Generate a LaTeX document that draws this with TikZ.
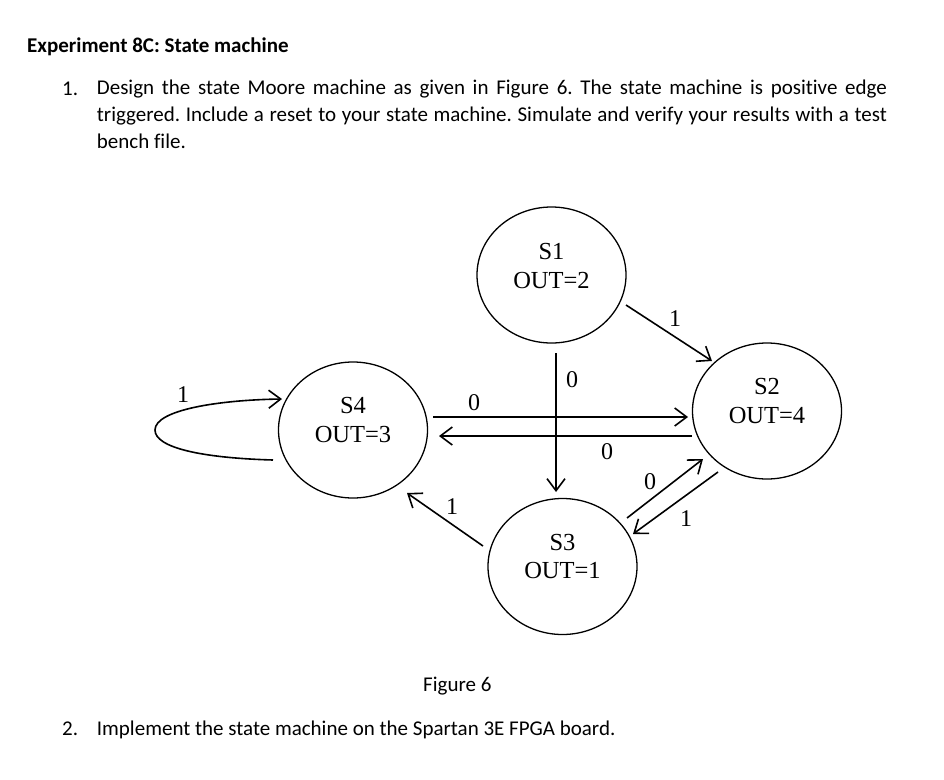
\documentclass[tikz,border=0pt]{standalone}
\usepackage{fontspec}
\setmainfont{Carlito}[Ligatures={NoCommon}]
\newfontfamily\tnr{Liberation Serif}
\usetikzlibrary{shapes.geometric,arrows.meta,calc}
\frenchspacing
\begin{document}
\begin{tikzpicture}[x=1pt,y=-1pt,
  statenode/.style={ellipse, draw, line width=1.3pt, minimum width=149pt, minimum height=136pt, inner sep=0pt},
  statetext/.style={font=\tnr\fontsize{24.5}{28.5}\selectfont, align=center, inner sep=0pt},
  edgelbl/.style={font=\tnr\fontsize{24}{29}\selectfont, inner sep=0pt},
  conn/.style={line width=1.6pt, -{Straight Barb[length=12pt,width=18pt,line width=1.6pt]}},
  bodytext/.style={font=\fontsize{21}{27}\selectfont, inner sep=0pt, anchor=base west}]
\useasboundingbox[fill=white] (0,0) rectangle (944,779);

% header and text
\node[bodytext, font=\bfseries\fontsize{21}{27}\selectfont] (hdr) at (27,52.7) {Experiment 8C: State machine};
\node[bodytext] (n1) at (62,95) {1.};
\node[bodytext, anchor=north west] (p1) at (96.7,80) {\parbox[t]{790pt}{\fontsize{21}{26.7}\selectfont\hyphenpenalty=10000\frenchspacing
Design the state Moore machine as given in Figure 6. The state machine is positive edge\linebreak
triggered. Include a reset to your state machine. Simulate and verify your results with a test\linebreak
bench file.}};
\node[bodytext] (fig) at (423,691.7) {Figure 6};
\node[bodytext] (n2) at (62,735) {2.};
\node[bodytext] (p2) at (96.7,735) {Implement the state machine on the Spartan 3E FPGA board.};

% states
\node[statenode] (S1) at (551.5,275) {};
\node[statenode] (S2) at (767,411) {};
\node[statenode] (S4) at (353,430) {};
\node[statenode] (S3) at (562.5,566.5) {};
\node[statetext] (S1t) at ([yshift=9pt]S1.center) {S1\\OUT=2};
\node[statetext] (S2t) at ([yshift=10pt]S2.center) {S2\\OUT=4};
\node[statetext] (S4t) at ([yshift=10pt]S4.center) {S4\\OUT=3};
\node[statetext] (S3t) at ([yshift=10pt]S3.center) {S3\\OUT=1};

% connectors
\draw[conn] ([shift={(74.5,30)}]S1.center) -- ([shift={(-55,-50)}]S2.center);
\draw[conn] ([shift={(4.5,78)}]S1.center) -- ([shift={(-6.5,-74.5)}]S3.center);
\draw[conn] ([shift={(80,-13)}]S4.center) -- ([shift={(-79,6)}]S2.center);
\draw[conn] ([shift={(-75,25)}]S2.center) -- ([shift={(86,6)}]S4.center);
\draw[conn] ([shift={(64.5,-48.5)}]S3.center) -- ([shift={(-64,48)}]S2.center);
\draw[conn] ([shift={(-49,61)}]S2.center) -- ([shift={(70.5,-32.5)}]S3.center);
\draw[conn] ([shift={(-79.5,-20.5)}]S3.center) -- ([shift={(54,63)}]S4.center);
\coordinate (L0) at ([shift={(-80,30)}]S4.center);
\coordinate (L1) at ([shift={(-198,0)}]S4.center);
\draw[conn] (L0) .. controls ([shift={(-150,28)}]S4.center) and ([shift={(-198,18)}]S4.center) .. (L1)
  .. controls ([shift={(-198,-20)}]S4.center) and ([shift={(-135,-30)}]S4.center) .. ([shift={(-71,-31)}]S4.center);

% edge labels
\node[edgelbl] (e1) at (675,319) {1};
\node[edgelbl] (e2) at (572,380) {0};
\node[edgelbl] (e3) at (474,403) {0};
\node[edgelbl] (e4) at (607,452) {0};
\node[edgelbl] (e5) at (650,482) {0};
\node[edgelbl] (e6) at (686,519) {1};
\node[edgelbl] (e7) at (452,507) {1};
\node[edgelbl] (e8) at (183,395) {1};
\end{tikzpicture}
\end{document}
